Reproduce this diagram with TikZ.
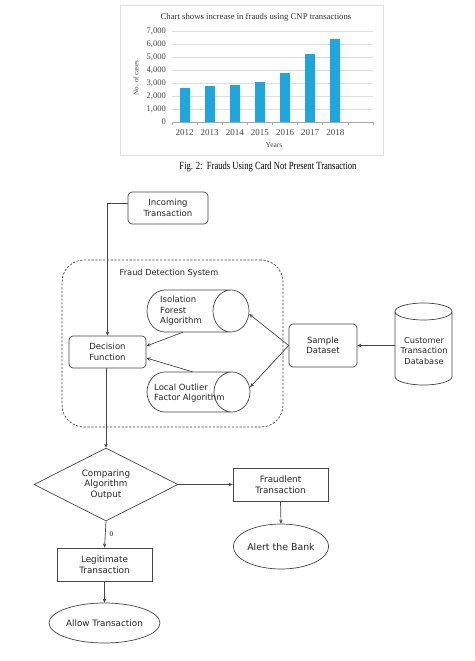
\documentclass[tikz,border=0pt]{standalone}
\usepackage{graphicx}
\usepackage{fontspec}
\setmainfont{Liberation Serif}
\newfontfamily\flowfont{DejaVu Sans}
\usetikzlibrary{arrows.meta,shapes.geometric}
\definecolor{barblue}{RGB}{30,166,222}
\definecolor{linec}{RGB}{70,70,70}
\definecolor{gridc}{RGB}{222,222,222}
\definecolor{axtext}{RGB}{70,70,70}
\tikzset{
  flow/.style={font=\flowfont\fontsize{8.5}{10.5}\selectfont, align=center, text=black!85},
  flowl/.style={font=\flowfont\fontsize{8.8}{10.5}\selectfont, align=center, text=black!85},
  boxr/.style={flow, draw=linec, line width=0.7pt, rounded corners=4pt, inner sep=0pt},
  boxs/.style={flowl, draw=linec, line width=0.7pt, inner sep=0pt},
  conn/.style={draw=linec, line width=0.7pt, -{Stealth[length=4pt,width=3.5pt]}},
  cyl/.style={draw=linec, line width=0.7pt},
  ghost/.style={inner sep=0pt},
  axlab/.style={font=\fontsize{8.5}{10}\selectfont, text=axtext, inner sep=0pt}
}
\begin{document}
\begin{tikzpicture}[x=1pt,y=-1pt]
\fill[white] (0,0) rectangle (474,661);
\useasboundingbox (0,0) rectangle (474,661);

% ---------- chart ----------
\draw[gridc, line width=0.8pt] (120,5) rectangle (383,155);
\node[font=\fontsize{8.7}{10}\selectfont, text=black!80] (ctitle) at (256,17) {Chart shows increase in frauds using CNP transactions};
\foreach \k in {1,...,7} {
  \draw[gridc, line width=0.6pt] (172,122-13*\k) -- (373,122-13*\k);
}
\foreach \lab [count=\k from 0] in {0,{1,000},{2,000},{3,000},{4,000},{5,000},{6,000},{7,000}} {
  \node[axlab, anchor=east] (yl\k) at (166,122-13*\k) {\lab};
}
\draw[gray!70, line width=0.7pt] (172,122) -- (373,122);
\foreach \k in {0,...,8} {
  \draw[gray!70, line width=0.6pt] (172+25.125*\k,122) -- (172+25.125*\k,125);
}
\foreach \v/\yr [count=\i from 0] in {2600/2012,2800/2013,2850/2014,3100/2015,3800/2016,5200/2017,6400/2018} {
  \fill[barblue] (184.5+25.125*\i-5,122) rectangle (184.5+25.125*\i+5,122-\v*0.013);
  \node[axlab, font=\fontsize{9}{10}\selectfont] (yr\i) at (184.5+25.125*\i,133) {\yr};
}
\node[font=\fontsize{7.5}{8}\selectfont, text=axtext] (xt) at (274,145.5) {Years};
\node[font=\fontsize{7}{8}\selectfont, text=axtext, rotate=90] (yt) at (136,78) {No. of cases};
\node[inner sep=0pt] (cap) at (268,167) {\resizebox{177pt}{7.6pt}{Fig. 2:\ \ Frauds Using Card Not Present Transaction}};

% ---------- flowchart ----------
\node[boxr, minimum width=80pt, minimum height=32pt] (inc) at (168,208) {Incoming\\Transaction};
\node[draw=linec, line width=0.7pt, dash pattern=on 2.2pt off 1.6pt, rounded corners=22pt,
      minimum width=221pt, minimum height=167pt, inner sep=0pt] (fds) at (172.5,343.5) {};
\node[flow, font=\flowfont\fontsize{8.2}{10}\selectfont] (fdsl) at (169,273) {Fraud Detection System};
\node[boxr, minimum width=77pt, minimum height=32pt] (dec) at (107.5,352) {Decision\\Function};

% isolation forest cylinder
\node[ghost, minimum width=102pt, minimum height=42pt] (iso) at (198,311) {};
\draw[cyl] (165,290) -- (231,290) (165,332) -- (231,332)
  (165,332) arc[start angle=270, end angle=90, x radius=18pt, y radius=21pt]
  (231,311) ellipse[x radius=18pt, y radius=21pt];
\node[flow, align=left, anchor=west, inner sep=0pt] (isot) at (160,311) {Isolation\\Forest\\Algorithm};

% local outlier cylinder
\node[ghost, minimum width=103pt, minimum height=40pt] (loc) at (198.5,392) {};
\draw[cyl] (165,372) -- (232,372) (165,412) -- (232,412)
  (165,412) arc[start angle=270, end angle=90, x radius=18pt, y radius=20pt]
  (232,392) ellipse[x radius=18pt, y radius=20pt];
\node[flow, align=left, anchor=west, inner sep=0pt] (loct) at (154,393) {Local Outlier\\Factor Algorithm};

\node[boxr, minimum width=68pt, minimum height=43pt] (smp) at (323,345.5) {Sample\\Dataset};

% database cylinder
\node[ghost, minimum width=57pt, minimum height=82pt] (db) at (423.5,344) {};
\draw[cyl] (423.5,311.5) ellipse[x radius=28.5pt, y radius=8.5pt]
  (395,311.5) -- (395,376.5) (452,311.5) -- (452,376.5)
  (395,376.5) arc[start angle=180, end angle=360, x radius=28.5pt, y radius=8.5pt];
\node[flow, font=\flowfont\fontsize{8.2}{10.5}\selectfont, inner sep=0pt] (dbt) at (424,351) {Customer\\Transaction\\Database};

\node[flowl, shape=diamond, draw=linec, line width=0.7pt, aspect=2, inner sep=0pt,
      minimum width=144pt, minimum height=73pt] (cmp) at (106,484.5) {Comparing\\Algorithm\\Output};
\node[boxs, minimum width=95pt, minimum height=33pt] (frd) at (280.5,484.5) {Fraudlent\\Transaction};
\node[flowl, font=\flowfont\fontsize{9.4}{11}\selectfont, ellipse, draw=linec, line width=0.7pt, inner sep=0pt, minimum width=94pt, minimum height=45pt] (alr) at (281,546.5) {Alert the Bank};
\node[boxs, minimum width=95pt, minimum height=33pt] (leg) at (104.5,564.5) {Legitimate\\Transaction};
\node[flowl, ellipse, draw=linec, line width=0.7pt, inner sep=0pt, minimum width=111pt, minimum height=40pt] (alw) at (104.5,623) {Allow Transaction};

% connectors
\draw[conn] ([yshift=5pt]inc.west) -| (dec.north);
\draw[conn] (smp.east -| db.west) -- (smp.east);
\draw[conn] (smp.west) -- ([yshift=-3pt]iso.east);
\draw[conn] (smp.west) -- ([yshift=5pt]loc.east);
\draw[conn] ([xshift=-15pt]iso.south) -- ([yshift=6pt]dec.east);
\draw[conn] ([xshift=-6pt]loc.north) -- ([yshift=-6pt]dec.east);
\draw[conn] (cmp.north |- dec.south) -- (cmp.north);
\draw[conn] (cmp.east) -- (frd.west);
\draw[conn] (frd.south) -- (alr.north);
\draw[conn] (cmp.south) -- node[right, font=\fontsize{7}{8}\selectfont, inner sep=4pt] (zero) {0} (leg.north);
\draw[conn] (leg.south) -- (alw.north);
\end{tikzpicture}
\end{document}
